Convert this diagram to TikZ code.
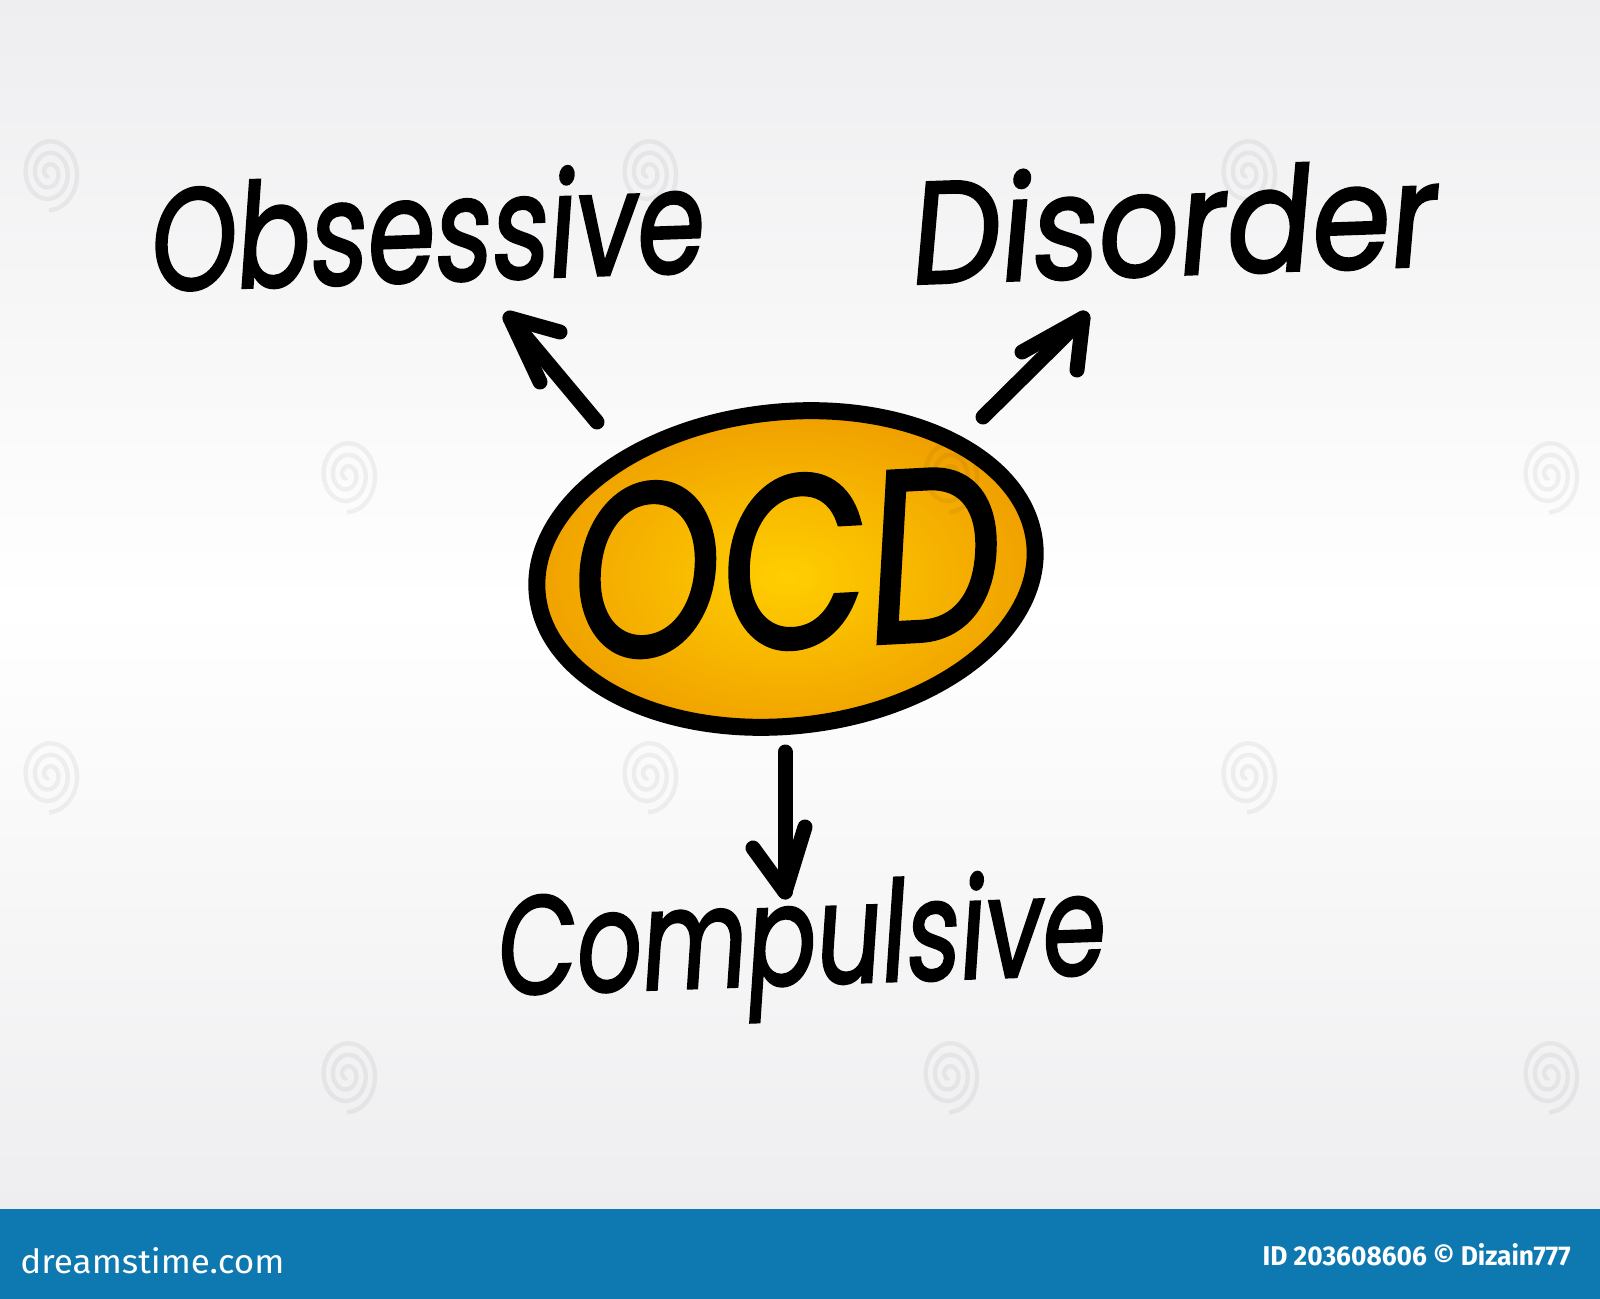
\documentclass[tikz,border=0pt]{standalone}
\usepackage{fontspec}
\newfontfamily\hand[FakeSlant=0.14,FakeBold=2]{Poppins}
\newfontfamily\barfont{Fira Sans}
\definecolor{bggray}{HTML}{EEEEF0}
\definecolor{barblue}{HTML}{0E78B0}
\definecolor{ocdin}{HTML}{FFCE00}
\definecolor{ocdout}{HTML}{F0A000}
\begin{document}
\begin{tikzpicture}[x=0.5pt,y=-0.5pt,
  stroke/.style={line width=7.5pt,line cap=round,line join=round},
  word/.style={inner sep=0pt,anchor=base west},
  bartext/.style={inner sep=0pt,text=white},
  wmark/.style={draw=black,draw opacity=0.05,line width=2.2pt}]
\useasboundingbox (0,0) rectangle (1600,1299);
% background
\shade[top color=bggray,bottom color=bggray,middle color=white] (0,0) rectangle (1600,1210);
\fill[barblue] (0,1209) rectangle (1600,1299);
% central ellipse
\coordinate (c) at (786,569);
\shadedraw[inner color=ocdin,outer color=ocdout,draw=black,line width=8.5pt,
  rotate around={6:(c)}] (c) ellipse [x radius=250, y radius=157];
\node[word,rotate=3] (ocd) at (568,659) {\resizebox{215pt}{86pt}{\hand OCD}};
% words
\node[word,rotate=2] (obs) at (148,291) {\resizebox{277pt}{55pt}{\hand Obsessive}};
\node[word,rotate=2] (dis) at (908,284) {\resizebox{263pt}{55pt}{\hand Disorder}};
\node[word,rotate=2] (comp) at (495,995) {\resizebox{304pt}{53pt}{\hand Compulsive}};
% arrows
\coordinate (lt) at (597,422); \coordinate (ltip) at (510,318);
\coordinate (la) at (560,332); \coordinate (lb) at (540,382);
\coordinate (rt) at (983,417); \coordinate (rtip) at (1083,318);
\coordinate (ra) at (1022,352); \coordinate (rb) at (1077,370);
\coordinate (dt) at (785,752); \coordinate (dtip) at (785,892);
\coordinate (da) at (753,848); \coordinate (db) at (805,827);
\draw[stroke] (lt) -- (ltip); \draw[stroke] (la) -- (ltip) -- (lb);
\draw[stroke] (rt) -- (rtip); \draw[stroke] (ra) -- (rtip) -- (rb);
\draw[stroke] (dt) -- (dtip); \draw[stroke] (da) -- (dtip) -- (db);
% faint watermark spirals
\foreach \cx/\cy in {49/173,648/173,1247/173,347/475,949/475,1549/475,49/775,648/775,1247/775,347/1075,949/1075,1549/1075}{
  \draw[wmark] plot[domain=90:1170,samples=90] ({\cx+0.026*\x*cos(\x)},{\cy+0.032*\x*sin(\x)});
}
% footer
\node[bartext,anchor=base west] (site) at (20,1273) {\resizebox{132pt}{13pt}{\barfont dreamstime.com}};
\node[bartext,anchor=base east] (id) at (1571,1265) {\resizebox{154pt}{11pt}{\barfont\bfseries ID 203608606 © Dizain777}};
\end{tikzpicture}
\end{document}
